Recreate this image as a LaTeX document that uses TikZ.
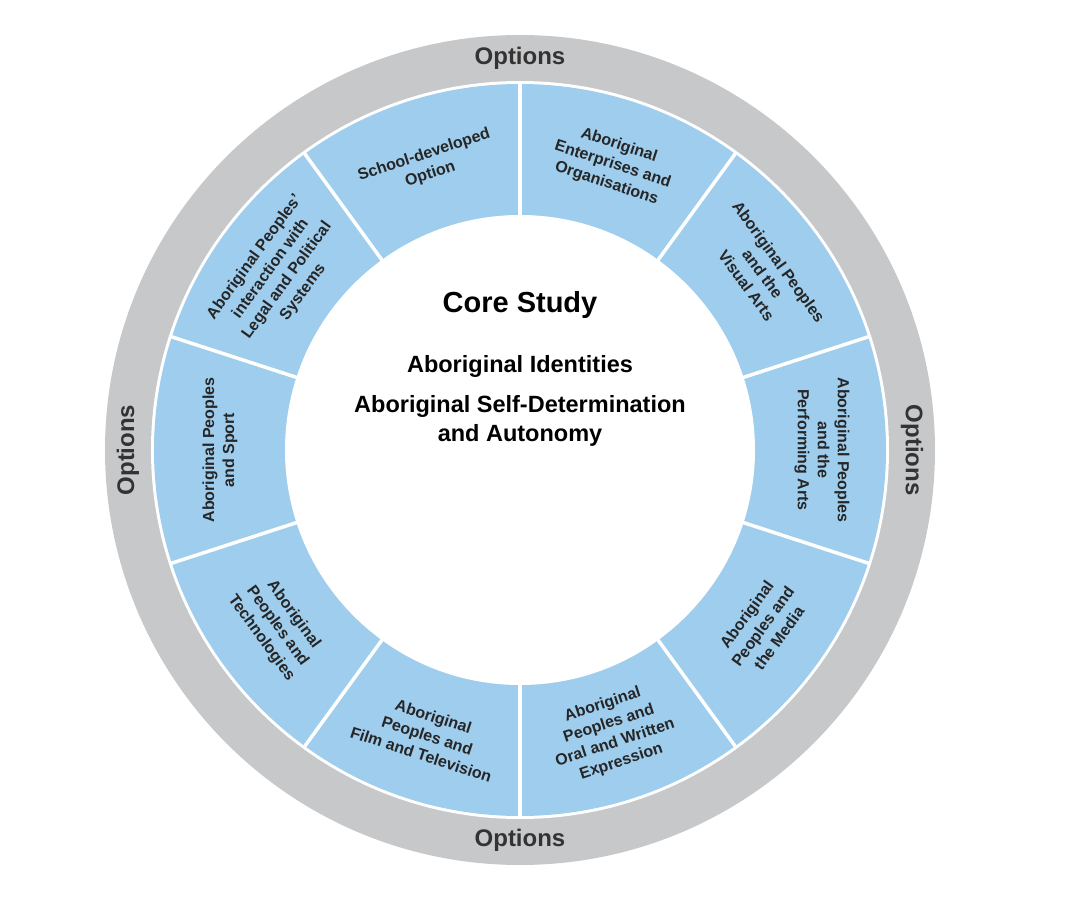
\documentclass[tikz,border=0pt]{standalone}
\usepackage{fontspec}
\setmainfont{Liberation Sans}
\definecolor{ringgray}{HTML}{C7C8CA}
\definecolor{segblue}{HTML}{9FCDEE}
\begin{document}
\begin{tikzpicture}[x=1pt,y=1pt,
  seg/.style={font=\bfseries\fontsize{16}{20}\selectfont,align=center,text=black!85,inner sep=0},
  opt/.style={font=\bfseries\fontsize{24}{26}\selectfont,text=black!80},
  core/.style={font=\bfseries\fontsize{23.5}{29}\selectfont}]
\useasboundingbox (-520,-461) rectangle (545,450);
\fill[ringgray] (0,0) circle (415);
\fill[white] (0,0) circle (369);
\fill[segblue] (0,0) circle (366);
\fill[white] (0,0) circle (235);
\foreach \a in {90,126,...,414}
  \draw[white,line width=3.5] (\a:233) -- (\a:368);
\node[seg,rotate=18] (s1) at (108:300) {School-developed\\Option};
\node[seg,rotate=-18] (s2) at (72:300) {Aboriginal\\Enterprises and\\Organisations};
\node[seg,rotate=-54] (s3) at (36:300) {Aboriginal Peoples\\and the\\Visual Arts};
\node[seg,rotate=-90] (s4) at (0:302) {Aboriginal Peoples\\and the\\Performing Arts};
\node[seg,rotate=54] (s5) at (-36:300) {Aboriginal\\Peoples and\\the Media};
\node[seg,rotate=18] (s6) at (-72:298) {Aboriginal\\Peoples and\\Oral and Written\\Expression};
\node[seg,rotate=-18] (s7) at (-108:300) {Aboriginal\\Peoples and\\Film and Television};
\node[seg,rotate=-54] (s8) at (216:300) {Aboriginal\\Peoples and\\Technologies};
\node[seg,rotate=90] (s9) at (180:300) {Aboriginal Peoples\\and Sport};
\node[seg,rotate=54] (s10) at (144:298) {Aboriginal Peoples'\\interaction with\\Legal and Political\\Systems};
\node[opt] (o1) at (0,392) {Options};
\node[opt] (o2) at (0,-390) {Options};
\node[opt,rotate=90] (o3) at (-392,0) {Options};
\node[opt,rotate=-90] (o4) at (392,0) {Options};
\node[font=\bfseries\fontsize{29}{32}\selectfont] (c1) at (0,145) {Core Study};
\node[core] (c2) at (0,84) {Aboriginal Identities};
\node[core,align=center] (c3) at (0,29) {Aboriginal Self-Determination\\and Autonomy};
\end{tikzpicture}
\end{document}
